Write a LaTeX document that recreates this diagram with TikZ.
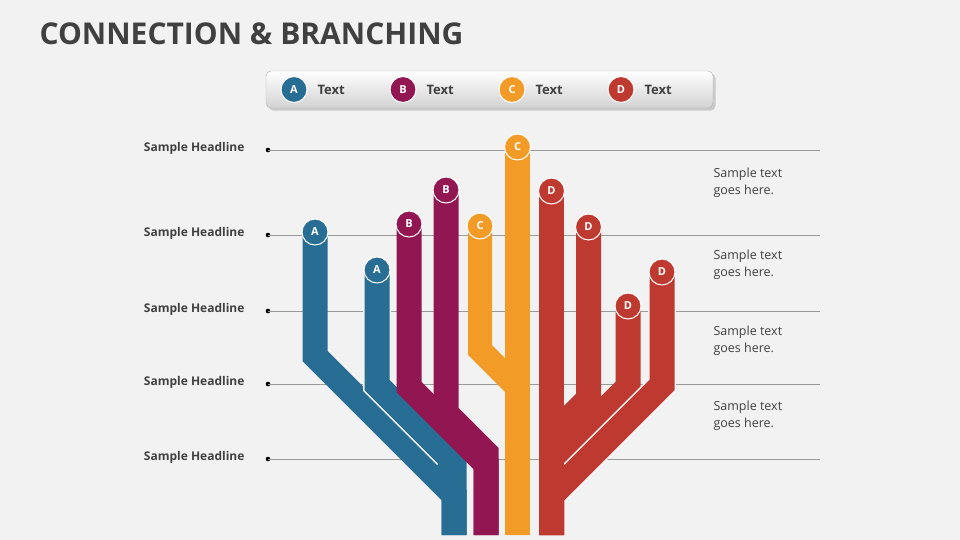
\documentclass[tikz,border=0pt]{standalone}
\usepackage{fontspec}
\setmainfont{Open Sans}
\usetikzlibrary{shadows}
\definecolor{bg}{HTML}{F2F2F2}
\definecolor{cA}{HTML}{276D94}
\definecolor{cB}{HTML}{921652}
\definecolor{cC}{HTML}{F29C27}
\definecolor{cD}{HTML}{BE3A30}
\definecolor{tx}{HTML}{404040}
\tikzset{
 br/.style={line width=25pt, line join=miter, draw=#1},
 brb/.style={line width=28pt, line join=miter, draw=bg},
 badge/.style={circle, minimum size=26pt, inner sep=0pt, fill=#1, draw=white, line width=1pt, text=white, font=\bfseries\fontsize{11}{11}\selectfont},
 hline/.style={draw=gray!80, line width=0.8pt},
 head/.style={anchor=east, font=\bfseries\fontsize{12}{14}\selectfont, text=tx},
 side/.style={anchor=west, align=left, font=\fontsize{12.5}{17}\selectfont, text=tx},
}
\begin{document}
\begin{tikzpicture}[x=1pt,y=-1pt]
\fill[bg] (0,0) rectangle (960,540);
\useasboundingbox (0,0) rectangle (960,540);
\node[anchor=west, font=\bfseries\fontsize{30}{30}\selectfont, text=tx] (title) at (36,34) {CONNECTION \& BRANCHING};
% legend
\node[draw=gray!60, rounded corners=5pt, top color=white, bottom color=gray!35, minimum width=447pt, minimum height=37pt, drop shadow={opacity=0.35}] (leg) at (489.5,89.5) {};
\foreach \c/\l/\x in {cA/A/294, cB/B/403, cC/C/512, cD/D/621}{
 \node[badge=\c] (l\l) at (\x,89.5) {\l};
 \node[anchor=west, font=\bfseries\fontsize{13}{13}\selectfont, text=tx] (t\l) at (\x+20,89.5) {Text};
}
% lines
\foreach \y/\n in {150/1, 235/2, 311/3, 384/4, 459/5}{
 \fill[black] (268,\y) circle (2.3pt);
 \coordinate (s\n) at (268,\y);
 \coordinate (e\n) at (820,\y);
 \draw[hline] (s\n) -- (e\n);
 \node[head] (h\n) at (248,\y-1.5) {Sample Headline};
}
\foreach \y/\n in {183/1, 265/2, 341/3, 416/4}{
 \node[side] (r\n) at (710,\y) {Sample text\\goes here.};
}
% blue
\draw[br=cA] (315,232) -- (315,356) -- (454,495) -- (454,535);
\draw[brb] (377,270) -- (377,385) -- (447,455);
\draw[br=cA] (377,270) -- (377,385) -- (454,462) -- (454,535);
% purple
\draw[br=cB] (409,224) -- (409,387) -- (486,464) -- (486,535);
\draw[br=cB] (446,190) -- (446,413) -- (486,453) -- (486,535);
% orange
\draw[br=cC, line width=24pt] (480,226) -- (480,350) -- (517.5,387.5) -- (517.5,535);
\draw[br=cC] (517.5,147) -- (517.5,535);
% red
\draw[br=cD] (588.5,227) -- (588.5,399) -- (551.5,436) -- (551.5,535);
\draw[br=cD] (628,306) -- (628,387) -- (551.5,463.5) -- (551.5,535);
\draw[brb] (662,272) -- (662,385) -- (558.5,488.5);
\draw[br=cD] (662,272) -- (662,385) -- (551.5,495.5) -- (551.5,535);
\draw[br=cD] (551.5,191) -- (551.5,535);
% badges
\node[badge=cA] (a1) at (315,232) {A};
\node[badge=cA] (a2) at (377,270) {A};
\node[badge=cB] (b1) at (409,224) {B};
\node[badge=cB] (b2) at (446,190) {B};
\node[badge=cC] (c2) at (480,226) {C};
\node[badge=cC] (c1) at (517.5,147) {C};
\node[badge=cD] (d1) at (551.5,191) {D};
\node[badge=cD] (d2) at (588.5,227) {D};
\node[badge=cD] (d3) at (628,306) {D};
\node[badge=cD] (d4) at (662,272) {D};
\end{tikzpicture}
\end{document}
